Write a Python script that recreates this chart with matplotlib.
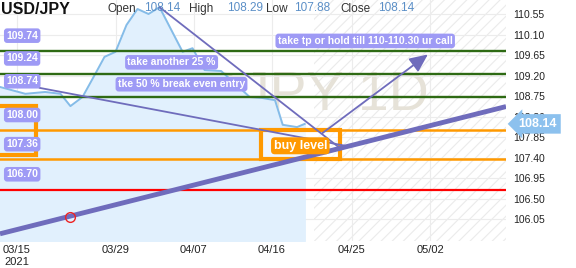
import matplotlib.pyplot as plt
from matplotlib.patches import Rectangle

plt.rcParams['font.family'] = ['Liberation Sans', 'DejaVu Sans']
plt.rcParams['hatch.linewidth'] = 0.8

# price series (x = trading-day position, y = price)
price_x = [0, 2.3, 4.1, 5.5, 6.4, 7.5, 8.6, 9.5, 10.5, 11.5, 12.5, 13.5, 14.5,
           16.6, 17.5, 18.6, 20.1, 22.7, 23.8, 25.0, 25.7, 27.0, 27.7]
price_y = [108.95, 108.80, 108.84, 108.80, 108.53, 108.73, 109.21, 109.61, 109.72,
           110.31, 110.66, 110.55, 110.70, 109.72, 109.80, 109.32, 109.30, 108.73,
           108.71, 108.66, 108.12, 108.07, 108.14]

date_pos = [1.5, 10.5, 17.6, 24.7, 32.0, 39.1]
date_labels = ['03/15\n2021', '03/29', '04/07', '04/16', '04/25', '05/02']
price_ticks = [110.55, 110.10, 109.65, 109.20, 108.75, 108.30, 107.85, 107.40,
               106.95, 106.50, 106.05]

green_levels = [109.74, 109.24, 108.74]
orange_levels = [108.00, 107.36]
red_levels = [106.70]
level_labels = [109.74, 109.24, 108.74, 108.00, 107.36, 106.70]

last_price = 108.14
header = [('Open', '108.14'), ('High', '108.29'), ('Low', '107.88'), ('Close', '108.14')]

# drawn trend lines
trend_x, trend_y = [0, 46], [105.73, 108.52]
line_a_x, line_a_y = [3.6, 31.4], [108.93, 107.66]
line_b_x, line_b_y = [14.5, 30.9], [110.70, 107.61]
arrow_from, arrow_to = (29.1, 107.90), (39.1, 109.70)
marker_pt = (6.4, 106.10)

purple = '#6f6cbc'
tag = '#9e9af5'

fig = plt.figure(figsize=(5.76, 2.68), dpi=100)
ax = fig.add_axes([0, 1 - 241 / 268, 506 / 576, 241 / 268])
ax.set_xlim(0, 46)
ax.set_ylim(105.572, 110.857)

# future (hatched) area and watermark
ax.axvspan(28.5, 46, facecolor='none', edgecolor='#ebebeb', hatch='///', lw=0, zorder=0.2)
ax.text(39.0, 108.75, 'USDJPY 1D', fontsize=40, color='#e6e2d8', ha='right', va='center', zorder=0.5)

# price area
ax.fill_between(price_x, price_y, 105.572, color='#e1f0fd', zorder=1)
ax.plot(price_x, price_y, color='#85bce8', lw=1.4, zorder=2)

# horizontal levels
for v in green_levels:
    ax.axhline(v, color='#2e6a14', lw=1.7, zorder=3)
for v in orange_levels:
    ax.axhline(v, color='#ff9900', lw=1.8, zorder=3)
for v in red_levels:
    ax.axhline(v, color='#ff0000', lw=1.6, zorder=3)

# orange boxes
ax.add_patch(Rectangle((-0.5, 107.46), 3.8, 1.07, fill=False, edgecolor='#ff9900', lw=3, zorder=4))
ax.add_patch(Rectangle((23.7, 107.36), 7.2, 0.64, facecolor='white', alpha=0.5, edgecolor='none', zorder=3.5))
ax.add_patch(Rectangle((23.7, 107.36), 7.2, 0.64, fill=False, edgecolor='#ff9900', lw=3, zorder=4))

# trend lines
ax.plot(trend_x, trend_y, color=purple, lw=3.5, zorder=5, solid_capstyle='butt')
ax.plot(line_a_x, line_a_y, color=purple, lw=1.3, zorder=5)
ax.plot(line_b_x, line_b_y, color=purple, lw=1.3, zorder=5)
ax.annotate('', xy=arrow_to, xytext=arrow_from,
            arrowprops=dict(arrowstyle='-|>,head_length=1.1,head_width=0.5', color=purple, lw=1.3),
            zorder=5)
ax.plot(*marker_pt, 'o', mfc='none', mec='#ee2222', ms=7, mew=1, zorder=6)

# level tags
for v in level_labels:
    ax.annotate(f'{v:.2f}', xy=(0, v), xytext=(4.5, 11), textcoords='offset points',
                ha='left', va='center', fontsize=7.5, fontweight='bold', color='white',
                bbox=dict(boxstyle='round,pad=0.22,rounding_size=0.3', fc=tag, ec='none'), zorder=7)

notes = [('take tp or hold till 110-110.30 ur call', 33.2, 109.96),
         ('take another 25 %', 15.6, 109.49),
         ('tke 50 % break even entry', 16.5, 109.01)]
for s, x, y in notes:
    ax.text(x, y, s, ha='center', va='center', fontsize=7.5, fontweight='bold', color='white',
            bbox=dict(boxstyle='round,pad=0.22,rounding_size=0.3', fc=tag, ec='none'), zorder=7)

ax.text(27.3, 107.66, 'buy level', ha='center', va='center', fontsize=9, fontweight='bold', color='white',
        bbox=dict(boxstyle='round,pad=0.2,rounding_size=0.3', fc='#ff9900', ec='none'), zorder=7)

# axes
ax.set_xticks(date_pos, date_labels)
ax.set_yticks(price_ticks, [f'{v:.2f}' for v in price_ticks])
ax.yaxis.tick_right()
ax.tick_params(axis='y', length=0, pad=5, labelsize=7.5, labelcolor='#222222')
ax.tick_params(axis='x', length=0, pad=3, labelsize=8, labelcolor='#222222')
ax.grid(True, color='#ececec', lw=0.8, zorder=0)
ax.set_axisbelow(True)
for s in ax.spines.values():
    s.set_visible(False)

ax.annotate(f'{last_price:.2f}', xy=(1.0, last_price), xycoords=('axes fraction', 'data'),
            xytext=(9, 0), textcoords='offset points', ha='left', va='center',
            fontsize=9, fontweight='bold', color='white', annotation_clip=False,
            bbox=dict(boxstyle='larrow,pad=0.3', fc='#8cc1ee', ec='none'), zorder=10)

# header
fig.text(1 / 576, 1 - 9 / 268, 'USD/JPY', fontsize=11.5, fontweight='bold', color='#111111', va='center')
hx = [108, 144, 189, 227, 266, 294, 340, 378]
for i, (k, v) in enumerate(header):
    fig.text(hx[2 * i] / 576, 1 - 9 / 268, k, fontsize=8.5, color='#333333', va='center')
    fig.text(hx[2 * i + 1] / 576, 1 - 8 / 268, v, fontsize=8.5, color='#5b8fc7', va='center')

fig.savefig('out.png', dpi=100)
